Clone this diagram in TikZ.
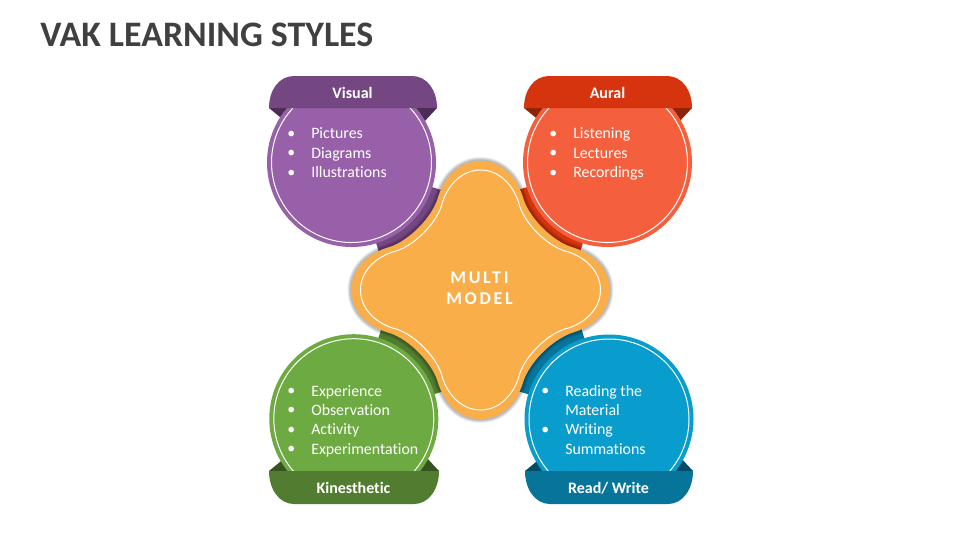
\documentclass[tikz,border=0pt]{standalone}
\usepackage{fontspec}
\setmainfont[Ligatures=NoCommon]{Carlito}
\newfontfamily\spaced[LetterSpace=15,Ligatures=NoCommon]{Carlito}
\definecolor{visA}{HTML}{9760A8}\definecolor{visB}{HTML}{744682}\definecolor{visC}{HTML}{4A2C54}
\definecolor{aurA}{HTML}{F4603D}\definecolor{aurB}{HTML}{D5340E}\definecolor{aurC}{HTML}{8E2309}
\definecolor{kinA}{HTML}{6DAB42}\definecolor{kinB}{HTML}{527D31}\definecolor{kinC}{HTML}{37531F}
\definecolor{redA}{HTML}{099DCD}\definecolor{redB}{HTML}{07749A}\definecolor{redC}{HTML}{054C66}
\definecolor{hub}{HTML}{FAAE4A}
\tikzset{
  x=0.75pt,y=-0.75pt,
  ringline/.style={draw=white,line width=0.75pt},
  headlabel/.style={text=white,font=\fontsize{12}{14}\selectfont\bfseries,inner sep=0,anchor=center},
  itemlabel/.style={text=white,font=\fontsize{11.9}{14.5}\selectfont,inner sep=0,anchor=north west,align=left},
}
% #1 cx, #2 cy, #3 colour, #4 start angle, #5 end angle
\newcommand{\bandarc}[5]{%
  \fill[#3] (#1,#2) ++(#4:84) -- ++(#4:10) arc[start angle=#4,end angle=#5,radius=94] -- (#1,#2) -- cycle;
}
% #1 cx #2 cy #3 colour
\newcommand{\mydisc}[3]{%
  \fill[#3] (#1,#2) circle[radius=84.5];
  \draw[ringline] (#1,#2) circle[radius=80];
}
% #1 xl #2 xr #3 colour
\newcommand{\topbanner}[3]{%
  \fill[#3] (#1,108) .. controls (#1,90) and ({#1+10},76) .. ({#1+25},76) -- ({#2-25},76) .. controls ({#2-10},76) and (#2,90) .. (#2,108) -- cycle;
}
\newcommand{\botbanner}[3]{%
  \fill[#3] (#1,471) .. controls (#1,489) and ({#1+10},504) .. ({#1+25},504) -- ({#2-25},504) .. controls ({#2-10},504) and (#2,489) .. (#2,471) -- cycle;
}
\begin{document}
\begin{tikzpicture}
\useasboundingbox (0,0) rectangle (960,540);
\fill[white] (0,0) rectangle (960,540);
\node[anchor=west,inner sep=0,text=black!75,font=\fontsize{26.9}{30}\selectfont\bfseries] (title) at (40,35) {VAK LEARNING STYLES};

% fold triangles
\fill[visC] (269,108) -- (286,122) -- (305,108) -- cycle;
\fill[visC] (437,108) -- (424,122) -- (400,108) -- cycle;
\fill[aurC] (524,108) -- (541,122) -- (560,108) -- cycle;
\fill[aurC] (692,108) -- (679,122) -- (655,108) -- cycle;
\fill[kinC] (269,471) -- (286,457) -- (305,471) -- cycle;
\fill[kinC] (439,471) -- (426,457) -- (402,471) -- cycle;
\fill[redC] (525,471) -- (542,457) -- (562,471) -- cycle;
\fill[redC] (693,471) -- (680,457) -- (656,471) -- cycle;

% bands towards the hub
\bandarc{351.5}{162.5}{visB}{17}{73}
\bandarc{607.5}{162.5}{aurB}{107}{163}
\bandarc{353.8}{418.7}{kinB}{-73}{-17}
\bandarc{609}{419}{redB}{-163}{-107}

% discs
\mydisc{351.5}{162.5}{visA}
\mydisc{607.5}{162.5}{aurA}
\mydisc{353.8}{418.7}{kinA}
\mydisc{609}{419}{redA}

% banners
\topbanner{269}{437}{visB}
\topbanner{524}{692}{aurB}
\botbanner{269}{439}{kinB}
\botbanner{525}{693}{redB}

% hub
\def\outerhub{(480.5,161)
 .. controls (502.5,161) and (517.5,178) .. (523.5,199)
 .. controls (529.5,218) and (552.5,241) .. (571.5,247)
 .. controls (592.5,253) and (609.5,268) .. (609.5,290)
 .. controls (609.5,312) and (592.5,327) .. (571.5,333)
 .. controls (552.5,339) and (529.5,362) .. (523.5,381)
 .. controls (517.5,402) and (502.5,419) .. (480.5,419)
 .. controls (458.5,419) and (443.5,402) .. (437.5,381)
 .. controls (431.5,362) and (408.5,339) .. (389.5,333)
 .. controls (368.5,327) and (351.5,312) .. (351.5,290)
 .. controls (351.5,268) and (368.5,253) .. (389.5,247)
 .. controls (408.5,241) and (431.5,218) .. (437.5,199)
 .. controls (443.5,178) and (458.5,161) .. (480.5,161) -- cycle}
\foreach \w in {6,5,4,3,2}{
  \draw[black,opacity=0.06,line width=\w pt] \outerhub;
}
\fill[hub] \outerhub;
\draw[ringline] (480.5,170)
 .. controls (498.5,170) and (512.5,184) .. (518.5,202)
 .. controls (522.5,222) and (548.5,248) .. (568.5,252)
 .. controls (586.5,258) and (600.5,272) .. (600.5,290)
 .. controls (600.5,308) and (586.5,322) .. (568.5,328)
 .. controls (548.5,332) and (522.5,358) .. (518.5,378)
 .. controls (512.5,396) and (498.5,410) .. (480.5,410)
 .. controls (462.5,410) and (448.5,396) .. (442.5,378)
 .. controls (438.5,358) and (412.5,332) .. (392.5,328)
 .. controls (374.5,322) and (360.5,308) .. (360.5,290)
 .. controls (360.5,272) and (374.5,258) .. (392.5,252)
 .. controls (412.5,248) and (438.5,222) .. (442.5,202)
 .. controls (448.5,184) and (462.5,170) .. (480.5,170) -- cycle;
\node[inner sep=0,text=white,align=center,font=\fontsize{13.5}{15.6}\selectfont\bfseries\spaced] (hubtext) at (479.5,288.5) {MULTI\\MODEL};

% heads
\node[headlabel] (visual) at (352.5,92.8) {Visual};
\node[headlabel] (aural) at (607.5,92.8) {Aural};
\node[headlabel] (kin) at (353.5,488) {Kinesthetic};
\node[headlabel] (rw) at (608.5,488) {Read/ Write};

% lists
\node[itemlabel] (d1) at (287,131) {•\\•\\•};
\node[itemlabel] (t1) at (311,127.5) {Pictures\\Diagrams\\Illustrations};
\node[itemlabel] (d2) at (549,131) {•\\•\\•};
\node[itemlabel] (t2) at (573,127.5) {Listening\\Lectures\\Recordings};
\node[itemlabel] (d3) at (287,388) {•\\•\\•\\•};
\node[itemlabel] (t3) at (311,385) {Experience\\Observation\\Activity\\Experimentation};
\node[itemlabel] (d4) at (541,388) {•\\\\•};
\node[itemlabel] (t4) at (565,385) {Reading the\\Material\\Writing\\Summations};
\end{tikzpicture}
\end{document}
